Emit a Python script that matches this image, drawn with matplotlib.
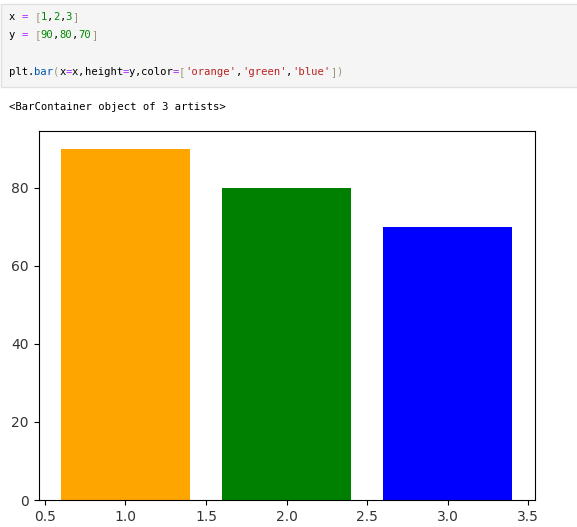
import matplotlib
matplotlib.use('Agg')
import matplotlib.pyplot as plt
from matplotlib.patches import Rectangle

# data
x = [1, 2, 3]
y = [90, 80, 70]
bar_colors = ['orange', 'green', 'blue']

W, H = 577, 527
fig = plt.figure(figsize=(W / 100, H / 100), dpi=100)

# code cell background
fig.patches.append(Rectangle((1 / W, 1 - 87 / H), 580 / W, 83 / H,
                             transform=fig.transFigure, facecolor='#f5f5f5',
                             edgecolor='#e0e0e0', linewidth=1))

mono = 'DejaVu Sans Mono'
fs = 7.6
cw = 6.3  # px per char

black = '#000000'
op = '#aa22ff'
num = '#008800'
brk = '#999977'
strc = '#ba2121'
fn = '#0055aa'

code_lines = [
    (17, [('x ', black), ('=', op), (' ', black), ('[', brk), ('1', num), (',', black),
          ('2', num), (',', black), ('3', num), (']', brk)]),
    (35, [('y ', black), ('=', op), (' ', black), ('[', brk), ('90', num), (',', black),
          ('80', num), (',', black), ('70', num), (']', brk)]),
    (72, [('plt', black), ('.', black), ('bar', fn), ('(', brk), ('x', black), ('=', op),
          ('x', black), (',', black), ('height', black), ('=', op), ('y', black), (',', black),
          ('color', black), ('=', op), ('[', brk), ("'orange'", strc), (',', black),
          ("'green'", strc), (',', black), ("'blue'", strc), (']', brk), (')', brk)]),
]

for ypix, segs in code_lines:
    col = 0
    for s, c in segs:
        fig.text((9 + col * cw) / W, 1 - ypix / H, s, color=c, family=mono,
                 fontsize=fs, va='center', ha='left')
        col += len(s)

fig.text(9 / W, 1 - 107 / H, '<BarContainer object of 3 artists>', color=black,
         family=mono, fontsize=fs, va='center', ha='left')

ax = fig.add_axes([38.5 / W, 1 - 500 / H, 496 / W, 368.7 / H])
ax.bar(x=x, height=y, color=bar_colors)
ax.tick_params(labelsize=10, labelcolor='#333333')

plt.savefig('out.png', dpi=100)
